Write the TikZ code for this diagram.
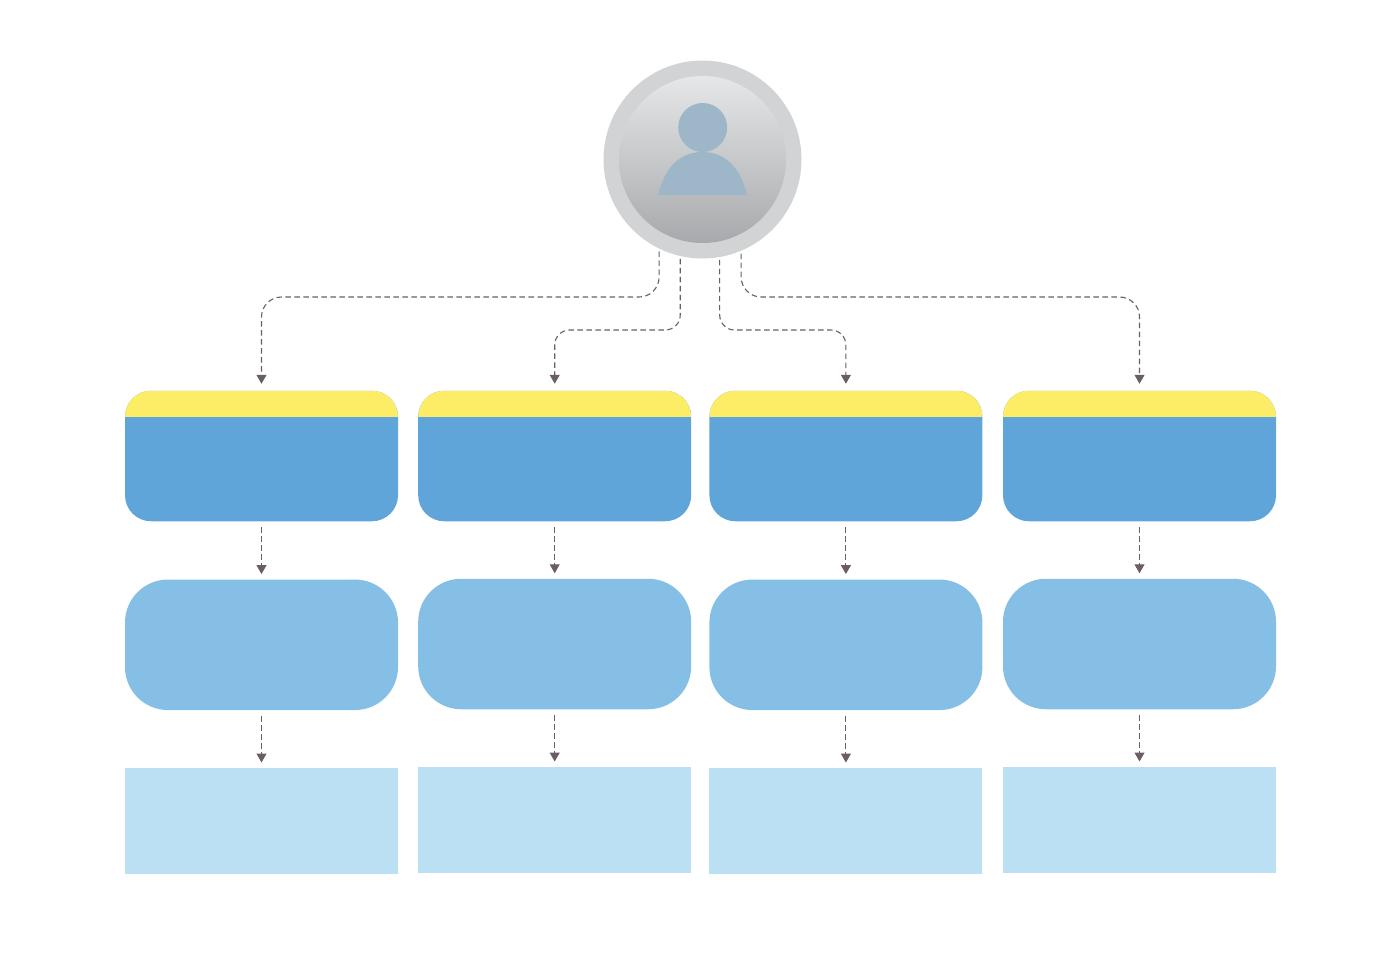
\documentclass[tikz,border=0pt]{standalone}
\usetikzlibrary{arrows.meta}

\definecolor{bandyellow}{HTML}{FCEC66}
\definecolor{topblue}{HTML}{5FA5DA}
\definecolor{midblue}{HTML}{85BFE5}
\definecolor{lowblue}{HTML}{BBE0F4}
\definecolor{personblue}{HTML}{9DB7C8}
\definecolor{ringgrey}{HTML}{D1D3D4}
\definecolor{hubtop}{HTML}{E6E7E8}
\definecolor{hubbottom}{HTML}{A7A9AC}
\definecolor{linkgrey}{HTML}{6A5E60}

\tikzset{
  box/.style={inner sep=0, outer sep=0, minimum width=273pt},
  topbox/.style={box, minimum height=130.5pt, fill=topblue, rounded corners=26pt,
    path picture={\fill[bandyellow, sharp corners] (path picture bounding box.north west) rectangle ([yshift=-26pt]path picture bounding box.north east);}},
  midbox/.style={box, minimum height=130.5pt, fill=midblue, rounded corners=43pt},
  lowbox/.style={box, minimum height=106pt, fill=lowblue},
  link/.style={draw=linkgrey, line width=1.1pt, dash pattern=on 5.5pt off 3.5pt,
    -{Triangle[width=10pt,length=9pt,fill=linkgrey,sep=0pt]}},
  longlink/.style={link, shorten <=3pt, shorten >=7pt},
  shortlink/.style={link, shorten <=6pt, shorten >=5.5pt}
}

\begin{document}
\begin{tikzpicture}[x=1pt, y=-1pt]
\useasboundingbox (0, 0) rectangle (1398, 980);

\def\xa{261.5}
\def\xb{554.7}
\def\xc{845.9}
\def\xd{1139.5}

\def\ya{456}
\def\yb{644.8}
\def\yc{821}

% person on top
\node[circle, inner sep=0, outer sep=0, minimum size=198pt, fill=ringgrey] (hub) at (702.5, 159.5) {};
\node[circle, inner sep=0, minimum size=167pt, top color=hubtop, bottom color=hubbottom] (hubin) at (hub) {};
\fill[personblue] (658, 195) .. controls (665, 167) and (680, 152) .. (702.5, 152)
  .. controls (725, 152) and (740, 167) .. (747, 195) -- cycle;
\node[circle, inner sep=0, minimum size=49pt, fill=personblue] (head) at (702.7, 127.5) {};

% columns
\node[topbox] (ta) at (\xa, \ya) {};
\node[topbox] (tb) at (\xb, \ya) {};
\node[topbox] (tc) at (\xc, \ya) {};
\node[topbox] (td) at (\xd, \ya) {};

\node[midbox] (ma) at (\xa, \yb) {};
\node[midbox] (mb) at (\xb, \yb-0.8) {};
\node[midbox] (mc) at (\xc, \yb) {};
\node[midbox] (md) at (\xd, \yb-0.8) {};

\node[lowbox] (la) at (\xa, \yc) {};
\node[lowbox] (lb) at (\xb, \yc-1) {};
\node[lowbox] (lc) at (\xc, \yc) {};
\node[lowbox] (ld) at (\xd, \yc-1) {};

% links out of the person
\coordinate (benda) at (450, 297);
\coordinate (bendb) at (620, 330);
\coordinate (bendc) at (780, 330);
\coordinate (bendd) at (950, 297);

\draw[longlink, rounded corners=20pt] (hub.244.6) |- (benda) -| (ta.north);
\draw[longlink, rounded corners=15pt] (hub.257.5) |- (bendb) -| (tb.north);
\draw[longlink, rounded corners=15pt] (hub.280) |- (bendc) -| (tc.north);
\draw[longlink, rounded corners=20pt] (hub.293.4) |- (bendd) -| (td.north);

\draw[shortlink] (ta) -- (ma);
\draw[shortlink] (tb) -- (mb);
\draw[shortlink] (tc) -- (mc);
\draw[shortlink] (td) -- (md);

\draw[shortlink] (ma) -- (la);
\draw[shortlink] (mb) -- (lb);
\draw[shortlink] (mc) -- (lc);
\draw[shortlink] (md) -- (ld);
\end{tikzpicture}
\end{document}
